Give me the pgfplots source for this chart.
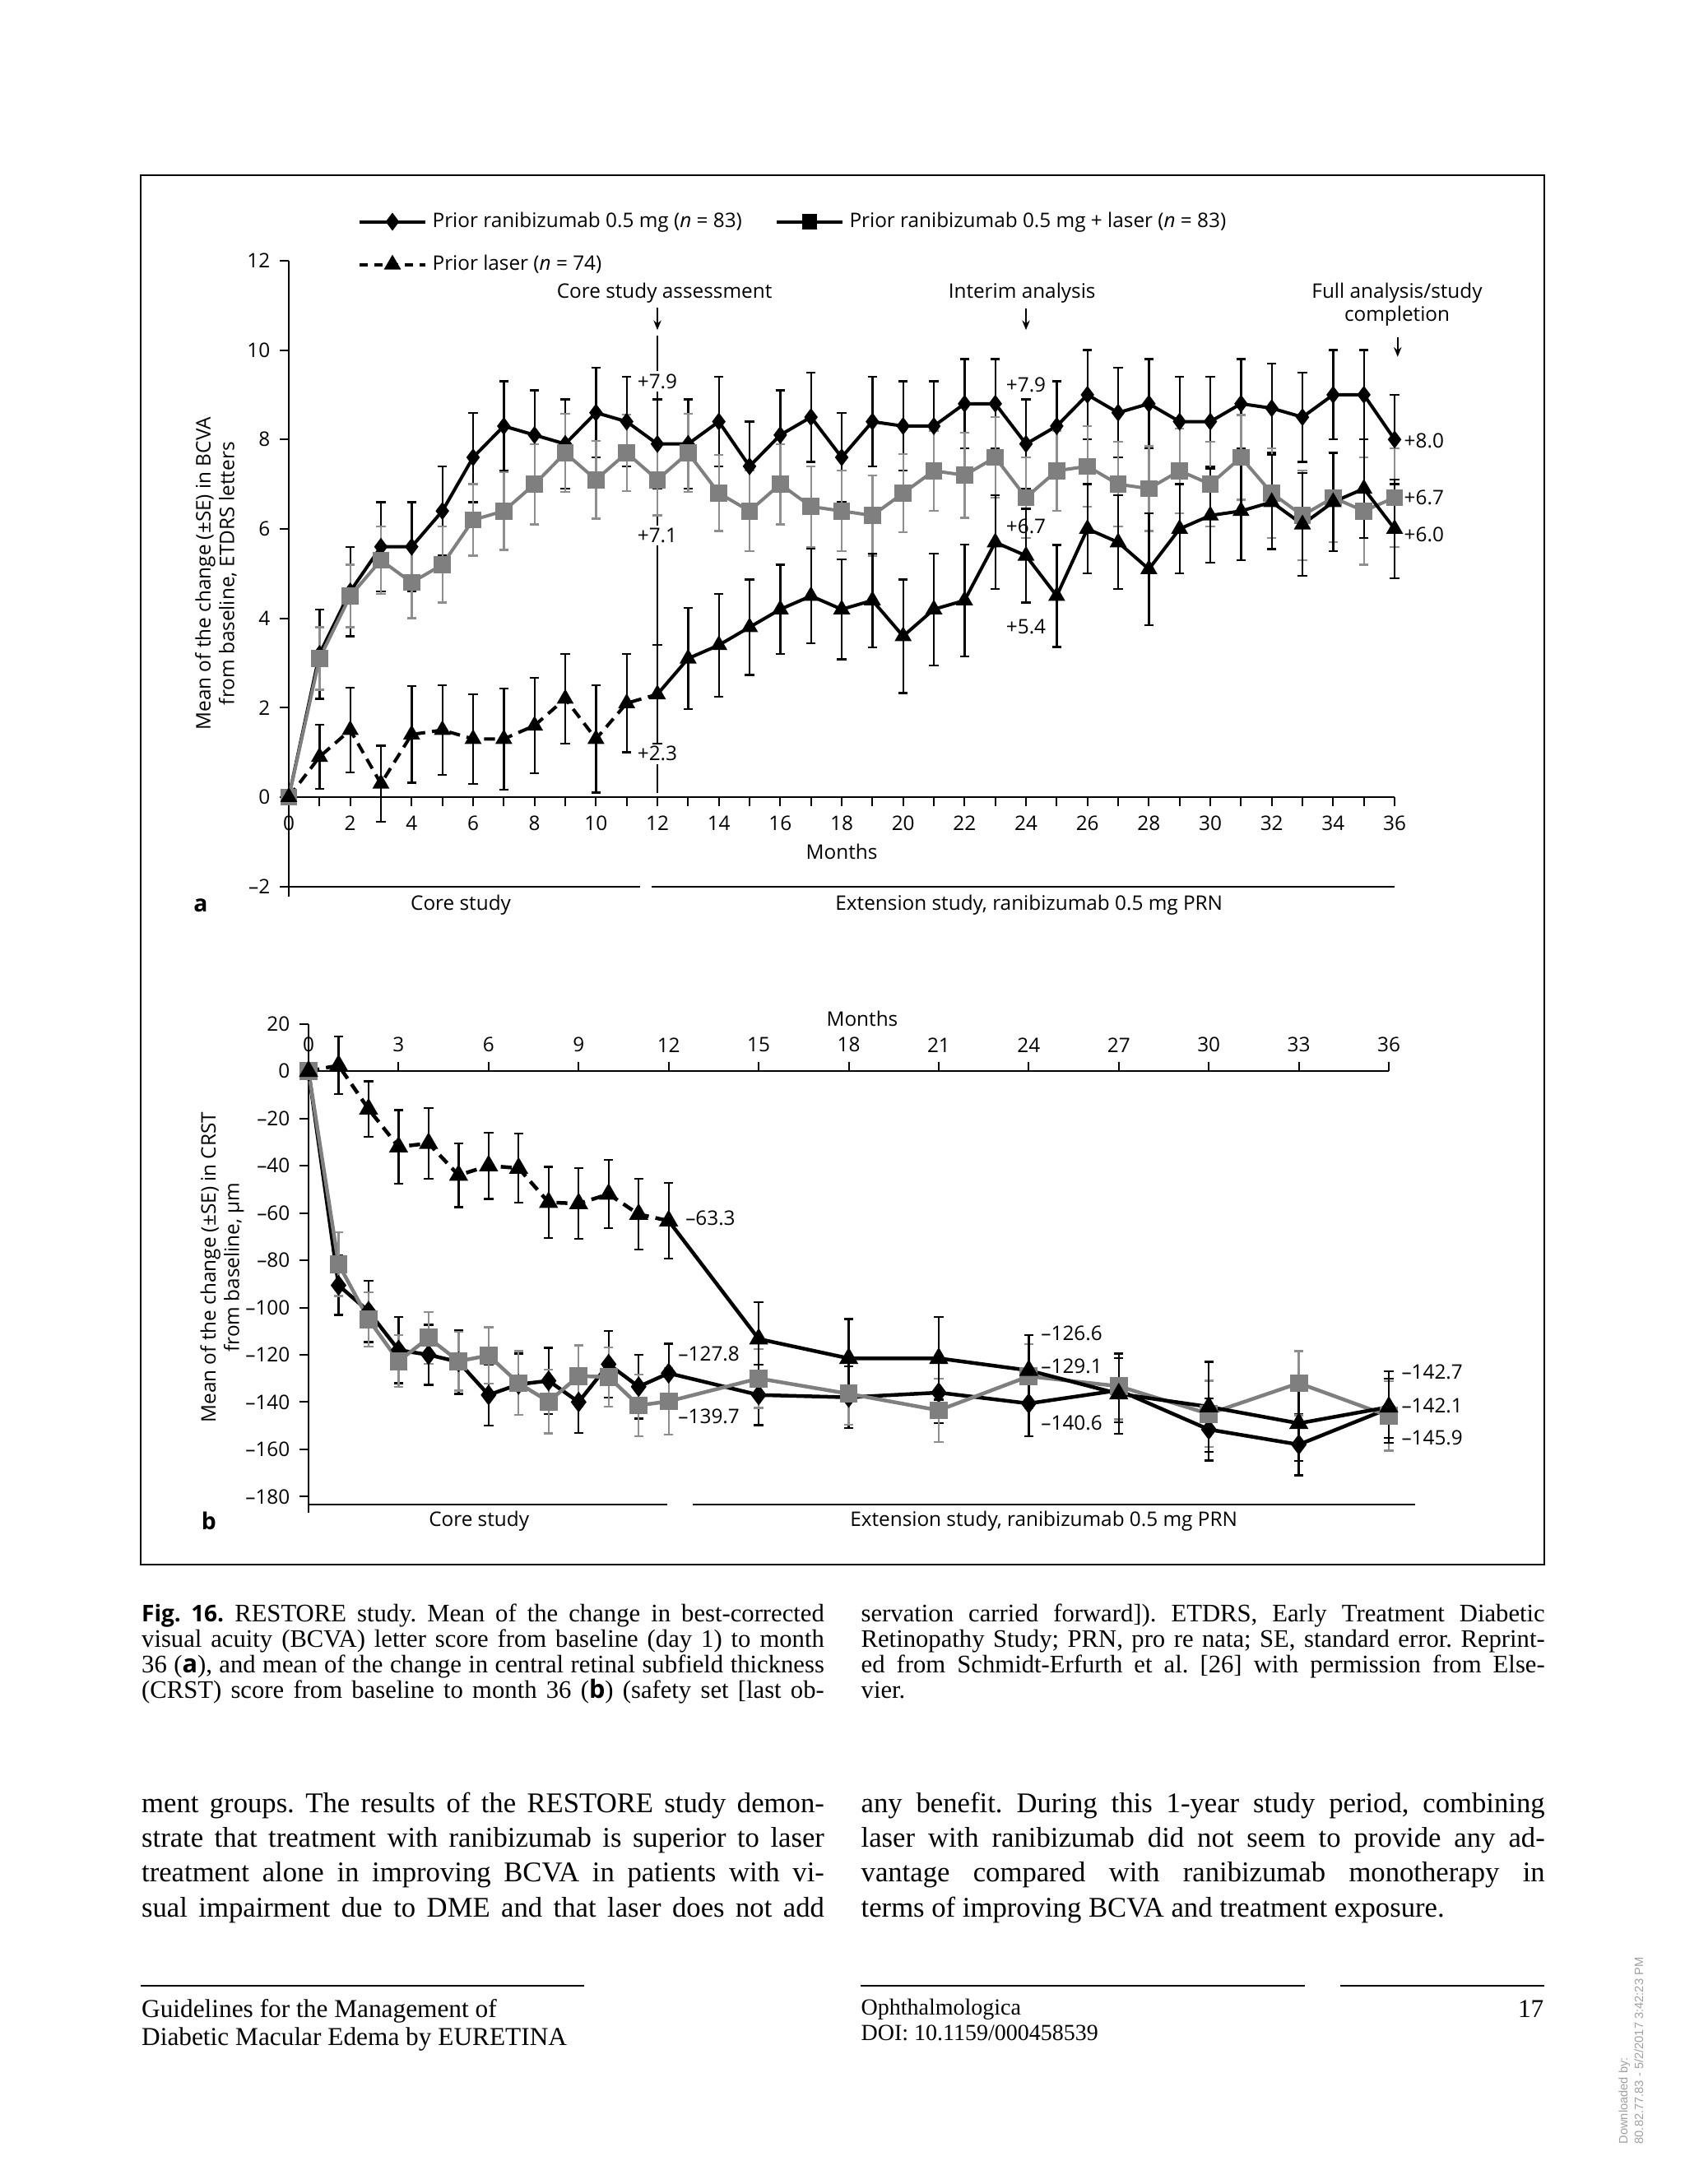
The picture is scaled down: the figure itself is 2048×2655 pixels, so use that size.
\documentclass[border=0pt]{standalone}
\usepackage{fontspec}
\setmainfont{Liberation Serif}
\newfontfamily\chartsans{Open Sans}
\newfontfamily\dlsans{Liberation Sans}
\usepackage{pgfplots}
\pgfplotsset{compat=1.18}
\usetikzlibrary{arrows.meta}
\frenchspacing

\newcommand\cf{\chartsans\fontsize{7.3bp}{8.6bp}\selectfont}
\newcommand\capf{\fontsize{9.2bp}{9.4bp}\selectfont}
\newcommand\bodyf{\fontsize{10.4bp}{12.7bp}\selectfont}
\newcommand\jl[2]{\makebox[#1][s]{#2}}
\newcommand\figb{\chartsans\bfseries}

\definecolor{sqgray}{HTML}{7F7F7F}
\definecolor{ebgray}{HTML}{8E8E8E}
\definecolor{dlgray}{HTML}{A0A0A0}

\pgfplotsset{
  restore/.style={
    scale only axis, clip=false,
    axis y line=left, axis x line=middle,
    axis line style={-, line width=0.6bp, black},
    hide obscured x ticks=false, hide obscured y ticks=false,
    tick style={black, line width=0.6bp},
    major tick length=3.3bp, minor tick length=3.3bp,
    tick label style={font=\cf},
    /pgf/number format/assume math mode=true,
    xmin=0, xmax=36,
  },
  ebk/.style={/pgfplots/error bars/y dir=both, /pgfplots/error bars/y explicit,
    /pgfplots/error bars/error bar style={line width=0.7bp, black, solid},
    /pgfplots/error bars/error mark options={rotate=90, mark size=1.7bp, line width=0.7bp, black, solid}},
  egy/.style={/pgfplots/error bars/y dir=both, /pgfplots/error bars/y explicit,
    /pgfplots/error bars/error bar style={line width=0.7bp, ebgray, solid},
    /pgfplots/error bars/error mark options={rotate=90, mark size=1.7bp, line width=0.7bp, ebgray, solid}},
  dash/.style={dash pattern=on 4bp off 2.5bp},
}

\begin{document}
\begin{tikzpicture}
\begin{scope}[x=0.3bp, y=-0.3bp]
  \fill[white] (0,0) rectangle (2048,2655);
  \path[use as bounding box] (0,0) rectangle (2048,2655);
  \draw[line width=0.6bp] (171,213) rectangle (1877,1902);
  \coordinate (TA) at (351,1089.6);
  \coordinate (BA) at (375,1839.4);

  % caption
  \begin{scope}[every node/.style={anchor=base west, inner sep=0pt, font=\capf}]
  \node at (171.5,1971) {\jl{248.9bp}{{\figb\fontsize{8.4bp}{9bp}\selectfont Fig. 16.} RESTORE study. Mean of the change in best-corrected}};
  \node at (171.5,2002) {\jl{248.9bp}{visual acuity (BCVA) letter score from baseline (day 1) to month}};
  \node at (171.5,2033) {\jl{248.9bp}{36 ({\figb a}), and mean of the change in central retinal subfield thickness}};
  \node at (171.5,2064) {\jl{248.9bp}{(CRST) score from baseline to month 36 ({\figb b}) (safety set [last ob-}};
  \node at (1046,1971) {\jl{249.3bp}{servation carried forward]). ETDRS, Early Treatment Diabetic}};
  \node at (1046,2002) {\jl{249.3bp}{Retinopathy Study; PRN, pro re nata; SE, standard error. Reprint-}};
  \node at (1046,2033) {\jl{249.3bp}{ed from Schmidt-Erfurth et al. [26] with permission from Else-}};
  \node at (1046,2064) {vier.};
  \end{scope}

  % body text
  \begin{scope}[every node/.style={anchor=base west, inner sep=0pt, font=\bodyf}]
  \node at (171.5,2203) {\jl{248.9bp}{ment groups. The results of the RESTORE study demon-}};
  \node at (171.5,2245.3) {\jl{248.9bp}{strate that treatment with ranibizumab is superior to laser}};
  \node at (171.5,2287.7) {\jl{248.9bp}{treatment alone in improving BCVA in patients with vi-}};
  \node at (171.5,2330) {\jl{248.9bp}{sual impairment due to DME and that laser does not add}};
  \node at (1046,2203) {\jl{249.3bp}{any benefit. During this 1-year study period, combining}};
  \node at (1046,2245.3) {\jl{249.3bp}{laser with ranibizumab did not seem to provide any ad-}};
  \node at (1046,2287.7) {\jl{249.3bp}{vantage compared with ranibizumab monotherapy in}};
  \node at (1046,2330) {terms of improving BCVA and treatment exposure.};
  \end{scope}

  % footer
  \draw[line width=0.6bp] (171,2414) -- (710,2414);
  \draw[line width=0.6bp] (1046,2414) -- (1586,2414);
  \draw[line width=0.6bp] (1629,2414) -- (1877,2414);
  \begin{scope}[every node/.style={inner sep=0pt}]
  \node[anchor=base west, font=\fontsize{9.4bp}{11bp}\selectfont] at (171.5,2452.5) {Guidelines for the Management of};
  \node[anchor=base west, font=\fontsize{9.4bp}{11bp}\selectfont] at (171.5,2486.5) {Diabetic Macular Edema by EURETINA};
  \node[anchor=base west, font=\fontsize{8.4bp}{10bp}\selectfont] at (1046,2449.5) {Ophthalmologica};
  \node[anchor=base west, font=\fontsize{8.4bp}{10bp}\selectfont] at (1046,2480) {DOI: 10.1159/000458539};
  \node[anchor=base east, font=\fontsize{9.4bp}{11bp}\selectfont] at (1877,2452.5) {17};
  \node[anchor=base west, rotate=90, text=dlgray, font=\dlsans\fontsize{4.4bp}{5bp}\selectfont] at (1978,2607) {Downloaded by:};
  \node[anchor=base west, rotate=90, text=dlgray, font=\dlsans\fontsize{4.4bp}{5bp}\selectfont] at (1997,2607) {80.82.77.83 - 5/2/2017 3:42:23 PM};
  \end{scope}
\end{scope}

% ---------- panel a: BCVA ----------
\begin{axis}[restore,
  at={(TA)}, anchor=south west,
  width=403.2bp, height=231.8bp,
  ymin=-2.22, ymax=12,
  xtick={0,2,...,36}, minor xtick={1,3,...,35},
  ytick={-2,0,...,12}, yticklabels={–2,0,2,4,6,8,10,12},
  tick align=outside,
  legend columns=2, legend cell align=left,
  legend style={at={(0.062,1.086)}, anchor=north west, draw=none, fill=none,
    inner sep=0pt, font=\cf, row sep=4.6bp,
    /tikz/every even column/.append style={column sep=10bp}},
  legend image code/.code={\draw[mark repeat=2, mark phase=2, #1] plot coordinates {(0bp,0bp) (12bp,0bp) (24bp,0bp)};},
]
\addlegendimage{black, line width=1.2bp, mark=diamond*, mark size=2.3bp}
\addlegendentry{Prior ranibizumab 0.5 mg (\textit{n} = 83)}
\addlegendimage{black, line width=1.2bp, mark=square*, mark size=2.2bp}
\addlegendentry{Prior ranibizumab 0.5 mg + laser (\textit{n} = 83)}
\addlegendimage{black, line width=1.2bp, dash pattern=on 3bp off 2.5bp, mark=triangle*, mark size=2.4bp, mark options={solid}}
\addlegendentry{Prior laser (\textit{n} = 74)}

% study phases
\draw[line width=0.6bp] (axis cs:0,-2) -- (axis cs:11.45,-2);
\draw[line width=0.6bp] (axis cs:11.82,-2) -- (axis cs:36,-2);
\node[font=\cf] at (axis cs:5.6,-2.42) {Core study};
\node[font=\cf] at (axis cs:24.1,-2.42) {Extension study, ranibizumab 0.5 mg PRN};
\node[font=\figb\fontsize{8.5bp}{9bp}\selectfont] at (axis cs:-2.87,-2.42) {a};
\node[font=\cf] at (axis cs:18,-1.23) {Months};
\node[font=\cf, rotate=90, align=center] at (axis cs:-2.37,5) {Mean of the change (±SE) in BCVA\\from baseline, ETDRS letters};

% time-point markers
\node[font=\cf] at (axis cs:12.23,11.28) {Core study assessment};
\node[font=\cf] at (axis cs:23.87,11.28) {Interim analysis};
\node[font=\cf, align=center] at (axis cs:36.08,11.02) {Full analysis/study\\completion};
\draw[-{Stealth[length=3.5bp,width=2.8bp]}, line width=0.6bp] (axis cs:12,10.95) -- (axis cs:12,10.45);
\draw[-{Stealth[length=3.5bp,width=2.8bp]}, line width=0.6bp] (axis cs:24,10.94) -- (axis cs:24,10.45);
\draw[-{Stealth[length=3.5bp,width=2.8bp]}, line width=0.6bp] (axis cs:36.1,10.28) -- (axis cs:36.1,9.85);
\draw[line width=0.6bp] (axis cs:12,10.33) -- (axis cs:12,0.1);
\node[font=\cf, fill=white, inner sep=1bp] at (axis cs:12,9.3) {+7.9};
\node[font=\cf, fill=white, inner sep=1bp] at (axis cs:12,5.85) {+7.1};
\node[font=\cf, fill=white, inner sep=1bp] at (axis cs:12,0.97) {+2.3};
\node[font=\cf, fill=white, inner sep=1bp] at (axis cs:24,9.23) {+7.9};
\node[font=\cf, fill=white, inner sep=1bp] at (axis cs:24,6.06) {+6.7};
\node[font=\cf, fill=white, inner sep=1bp] at (axis cs:24,3.81) {+5.4};
\node[font=\cf, anchor=west, inner sep=0.5bp] at (axis cs:36.25,7.98) {+8.0};
\node[font=\cf, anchor=west, inner sep=0.5bp] at (axis cs:36.25,6.7) {+6.7};
\node[font=\cf, anchor=west, inner sep=0.5bp] at (axis cs:36.25,5.88) {+6.0};

% prior ranibizumab 0.5 mg
\addplot[black, line width=1.2bp, mark=diamond*, mark size=2.3bp, ebk, forget plot]
  table[x=m, y=v, y error=e, row sep=\\] {
m v e\\ 0 0 0\\ 1 3.2 1.0\\ 2 4.6 1.0\\ 3 5.6 1.0\\ 4 5.6 1.0\\ 5 6.4 1.0\\
6 7.6 1.0\\ 7 8.3 1.0\\ 8 8.1 1.0\\ 9 7.9 1.0\\ 10 8.6 1.0\\ 11 8.4 1.0\\
12 7.9 1.0\\ 13 7.9 1.0\\ 14 8.4 1.0\\ 15 7.4 1.0\\ 16 8.1 1.0\\ 17 8.5 1.0\\
18 7.6 1.0\\ 19 8.4 1.0\\ 20 8.3 1.0\\ 21 8.3 1.0\\ 22 8.8 1.0\\ 23 8.8 1.0\\
24 7.9 1.0\\ 25 8.3 1.0\\ 26 9.0 1.0\\ 27 8.6 1.0\\ 28 8.8 1.0\\ 29 8.4 1.0\\
30 8.4 1.0\\ 31 8.8 1.0\\ 32 8.7 1.0\\ 33 8.5 1.0\\ 34 9.0 1.0\\ 35 9.0 1.0\\
36 8.0 1.0\\
};
% prior ranibizumab 0.5 mg + laser
\addplot[sqgray, line width=1.2bp, mark=square*, mark size=2.5bp, egy, forget plot]
  table[x=m, y=v, y error=e, row sep=\\] {
m v e\\ 0 0 0\\ 1 3.1 0.7\\ 2 4.5 0.7\\ 3 5.3 0.75\\ 4 4.8 0.8\\ 5 5.2 0.85\\
6 6.2 0.8\\ 7 6.4 0.87\\ 8 7.0 0.9\\ 9 7.7 0.87\\ 10 7.1 0.87\\ 11 7.7 0.86\\
12 7.1 0.8\\ 13 7.7 0.87\\ 14 6.8 0.85\\ 15 6.4 0.9\\ 16 7.0 0.9\\ 17 6.5 0.9\\
18 6.4 0.9\\ 19 6.3 0.9\\ 20 6.8 0.87\\ 21 7.3 0.9\\ 22 7.2 0.95\\ 23 7.6 0.9\\
24 6.7 0.9\\ 25 7.3 0.9\\ 26 7.4 0.9\\ 27 7.0 0.95\\ 28 6.9 0.95\\ 29 7.3 0.95\\
30 7.0 0.95\\ 31 7.6 0.95\\ 32 6.8 1.0\\ 33 6.3 1.0\\ 34 6.7 1.0\\ 35 6.4 1.2\\
36 6.7 1.1\\
};
% prior laser: core study (dashed) and extension (solid)
\addplot[black, line width=1.2bp, dash, mark=triangle*, mark size=2.4bp, mark options={solid}, ebk, forget plot]
  table[x=m, y=v, y error=e, row sep=\\] {
m v e\\ 0 0 0\\ 1 0.9 0.72\\ 2 1.5 0.95\\ 3 0.3 0.85\\ 4 1.4 1.08\\ 5 1.5 1.0\\
6 1.3 1.0\\ 7 1.3 1.13\\ 8 1.6 1.07\\ 9 2.2 1.0\\ 10 1.3 1.2\\ 11 2.1 1.1\\
12 2.3 1.1\\
};
\addplot[black, line width=1.2bp, no marks, forget plot] coordinates {(12,2.3) (13,3.1)};
\addplot[black, line width=1.2bp, mark=triangle*, mark size=2.4bp, ebk, forget plot]
  table[x=m, y=v, y error=e, row sep=\\] {
m v e\\ 13 3.1 1.13\\ 14 3.4 1.15\\ 15 3.8 1.07\\ 16 4.2 1.0\\ 17 4.5 1.06\\
18 4.2 1.12\\ 19 4.4 1.05\\ 20 3.6 1.27\\ 21 4.2 1.25\\ 22 4.4 1.25\\ 23 5.7 1.05\\
24 5.4 1.05\\ 25 4.5 1.14\\ 26 6.0 1.0\\ 27 5.7 1.05\\ 28 5.1 1.25\\ 29 6.0 1.0\\
30 6.3 1.05\\ 31 6.4 1.1\\ 32 6.6 1.05\\ 33 6.1 1.15\\ 34 6.6 1.1\\ 35 6.9 1.1\\
36 6.0 1.1\\
};
\end{axis}

% ---------- panel b: CRST ----------
\begin{axis}[restore,
  at={(BA)}, anchor=south west,
  width=393.9bp, height=178.38bp,
  ymin=-187, ymax=20,
  xtick={0,3,...,36},
  ytick={-180,-160,...,20},
  yticklabels={–180,–160,–140,–120,–100,–80,–60,–40,–20,0,20},
  xtick align=inside, ytick align=outside,
  xticklabel style={anchor=south, yshift=3.4bp},
]
\draw[line width=0.6bp] (axis cs:0,-183.5) -- (axis cs:11.96,-183.5);
\draw[line width=0.6bp] (axis cs:12.8,-183.5) -- (axis cs:36.87,-183.5);
\node[font=\cf] at (axis cs:5.68,-190.3) {Core study};
\node[font=\cf] at (axis cs:24.5,-190.3) {Extension study, ranibizumab 0.5 mg PRN};
\node[font=\figb\fontsize{8.5bp}{9bp}\selectfont] at (axis cs:-3.32,-190.3) {b};
\node[font=\cf] at (axis cs:18.45,22.4) {Months};
\node[font=\cf, rotate=90, align=center] at (axis cs:-2.88,-83) {Mean of the change (±SE) in CRST\\from baseline, µm};

\node[font=\cf, anchor=west, inner sep=0.5bp] at (axis cs:12.5,-62.2) {–63.3};
\node[font=\cf, anchor=west, inner sep=0.5bp] at (axis cs:12.26,-119.5) {–127.8};
\node[font=\cf, anchor=west, inner sep=0.5bp] at (axis cs:12.26,-146.1) {–139.7};
\node[font=\cf, anchor=west, inner sep=0.5bp] at (axis cs:24.35,-110.9) {–126.6};
\node[font=\cf, anchor=west, inner sep=0.5bp] at (axis cs:24.35,-124.7) {–129.1};
\node[font=\cf, anchor=west, inner sep=0.5bp] at (axis cs:24.35,-148.9) {–140.6};
\node[font=\cf, anchor=west, inner sep=0.5bp] at (axis cs:36.36,-127.3) {–142.7};
\node[font=\cf, anchor=west, inner sep=0.5bp] at (axis cs:36.36,-141.4) {–142.1};
\node[font=\cf, anchor=west, inner sep=0.5bp] at (axis cs:36.36,-155) {–145.9};

% prior ranibizumab 0.5 mg
\addplot[black, line width=1.35bp, mark=diamond*, mark size=2.7bp, ebk, forget plot]
  table[x=m, y=v, y error=e, row sep=\\] {
m v e\\ 0 0 0\\ 1 -90.6 12.5\\ 2 -101.6 13\\ 3 -118 14\\ 4 -120 12.7\\
5 -123 13.5\\ 6 -137 13\\ 7 -132.5 13\\ 8 -131 14\\ 9 -140 13\\ 10 -124 14\\
11 -133.5 13.5\\ 12 -127.8 12.5\\ 15 -137 12.8\\ 18 -138 13\\ 21 -136 13\\
24 -140.6 13.8\\ 27 -135 13.5\\ 30 -151.6 13.2\\ 33 -158 13\\ 36 -142.7 12.5\\
};
% prior ranibizumab 0.5 mg + laser
\addplot[sqgray, line width=1.35bp, mark=square*, mark size=2.6bp, egy, forget plot]
  table[x=m, y=v, y error=e, row sep=\\] {
m v e\\ 0 0 0\\ 1 -81.6 13.5\\ 2 -105 11.5\\ 3 -122.7 11\\ 4 -112.8 11\\
5 -122.7 12.5\\ 6 -120.3 12\\ 7 -132 13.5\\ 8 -139.8 13.5\\ 9 -129 13\\
10 -129.4 12.5\\ 11 -141.4 13\\ 12 -139.7 14\\ 15 -130 12.5\\ 18 -136.5 13\\
21 -143.5 13.5\\ 24 -129.1 13.5\\ 27 -133.3 14\\ 30 -145 14\\ 33 -132 13.6\\
36 -145.9 14.7\\
};
% prior laser
\addplot[black, line width=1.35bp, dash, mark=triangle*, mark size=2.7bp, mark options={solid}, ebk, forget plot]
  table[x=m, y=v, y error=e, row sep=\\] {
m v e\\ 0 0 0\\ 1 2.5 12.2\\ 2 -16 11.7\\ 3 -32 15.6\\ 4 -30.5 15\\ 5 -44 13.5\\
6 -40 14\\ 7 -41 14.6\\ 8 -55.5 15\\ 9 -56 15\\ 10 -52 14.5\\ 11 -60.5 15\\
12 -63.3 16\\
};
\addplot[black, line width=1.35bp, no marks, forget plot] coordinates {(12,-63.3) (15,-113.3)};
\addplot[black, line width=1.35bp, mark=triangle*, mark size=2.7bp, ebk, forget plot]
  table[x=m, y=v, y error=e, row sep=\\] {
m v e\\ 15 -113.3 15.6\\ 18 -121.5 16.6\\ 21 -121.5 17.5\\ 24 -126.6 15\\
27 -136.5 17\\ 30 -142 19\\ 33 -149 16\\ 36 -142.1 15.2\\
};
\end{axis}
\end{tikzpicture}
\end{document}
